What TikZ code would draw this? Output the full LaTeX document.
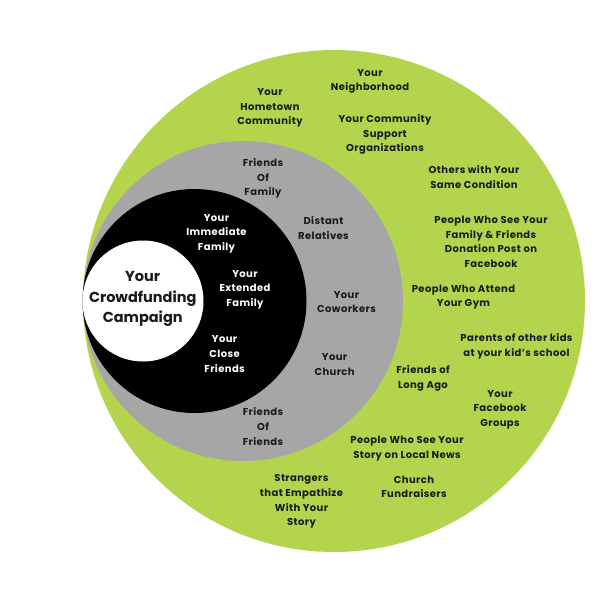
\documentclass[tikz,border=0pt]{standalone}
\usepackage{fontspec}
\setmainfont{Poppins}
\newfontfamily\spacedfont{Poppins}[LetterSpace=4.0]
\definecolor{ringgreen}{HTML}{B3D44C}
\definecolor{ringgray}{HTML}{A6A6A6}
\definecolor{inkdark}{HTML}{1A1A1A}
\tikzset{
  lbl/.style={align=center, inner sep=0pt, text=inkdark, font=\spacedfont\fontsize{10}{14.6}\selectfont\bfseries},
  wlbl/.style={lbl, text=white},
  biglbl/.style={align=center, inner sep=0pt, text=inkdark, font=\fontsize{14.5}{20.8}\selectfont\bfseries}
}
\begin{document}
\begin{tikzpicture}[x=1pt,y=-1pt]
\useasboundingbox (0,0) rectangle (600,600);
\fill[white] (0,0) rectangle (600,600);
% circles
\fill[ringgreen] (334,301) circle[radius=251pt];
\fill[ringgray] (243,301) circle[radius=160pt];
\fill[black] (194.5,301) circle[radius=112pt];
\fill[white] (143,301) circle[radius=60.5pt];
% centre
\node[biglbl] (campaign) at (142.7,299) {Your\\Crowdfunding\\Campaign};
% black ring
\node[wlbl] (immediate) at (216.5,233.5) {Your\\Immediate\\Family};
\node[wlbl] (extended) at (245,289.6) {Your\\Extended\\Family};
\node[wlbl] (close) at (224.6,354) {Your\\Close\\Friends};
% gray ring
\node[lbl] (fofamily) at (263,178.5) {Friends\\Of\\Family};
\node[lbl] (distant) at (323.5,228) {Distant\\Relatives};
\node[lbl] (coworkers) at (346.5,302) {Your\\Coworkers};
\node[lbl] (church) at (334.6,364.5) {Your\\Church};
\node[lbl] (fofriends) at (263,426.5) {Friends\\Of\\Friends};
% green ring
\node[lbl] (neighborhood) at (370,81.5) {Your\\Neighborhood};
\node[lbl] (hometown) at (270,108) {Your\\Hometown\\Community};
\node[lbl] (support) at (385,134.6) {Your Community\\Support\\Organizations};
\node[lbl] (condition) at (474,177) {Others with Your\\Same Condition};
\node[lbl] (donation) at (491,241.8) {People Who See Your\\Family \& Friends\\Donation Post on\\Facebook};
\node[lbl] (gym) at (463.5,297) {People Who Attend\\Your Gym};
\node[lbl] (parents) at (516.5,346.5) {Parents of other kids\\at your kid’s school};
\node[lbl] (longago) at (423,378.5) {Friends of\\Long Ago};
\node[lbl] (fbgroups) at (500,409.6) {Your\\Facebook\\Groups};
\node[lbl] (news) at (407,448.6) {People Who See Your\\Story on Local News};
\node[lbl] (fundraisers) at (414,487) {Church\\Fundraisers};
\node[lbl] (strangers) at (301.5,501.5) {Strangers\\that Empathize\\With Your\\Story};
\end{tikzpicture}
\end{document}
